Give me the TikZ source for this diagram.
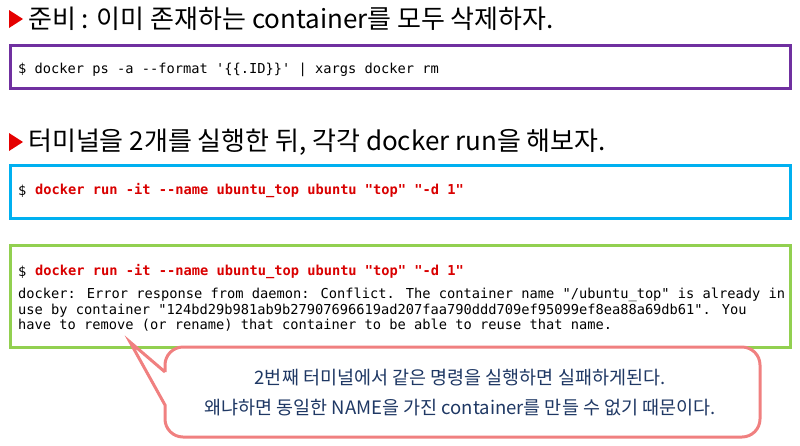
\documentclass[tikz,border=0pt]{standalone}
\usepackage{fontspec}
\newfontfamily\kr{Noto Sans CJK KR}
\newfontfamily\codef{DejaVu Sans Mono}
\definecolor{cpurple}{RGB}{112,48,160}
\definecolor{cblue}{RGB}{0,176,240}
\definecolor{cgreen}{RGB}{146,208,80}
\definecolor{cpink}{RGB}{240,128,128}
\definecolor{cnavy}{RGB}{31,56,100}
\begin{document}
\begin{tikzpicture}[x=1pt,y=-1pt,
  ttl/.style={anchor=west,inner sep=0,font=\kr\fontsize{26}{28}\selectfont},
  tri/.style={fill=red!90!black,draw=none},
  cbox/.style={draw=#1,line width=3pt},
  code/.style={anchor=west,inner sep=0,font=\codef\fontsize{13.7}{15.5}\selectfont,align=left},
  cmd/.style={code,text=red!85!black,font=\codef\bfseries\fontsize{13.7}{15.5}\selectfont},
  note/.style={inner sep=0,font=\kr\fontsize{18.5}{20}\selectfont,text=cnavy}]
\useasboundingbox (0,0) rectangle (800,445);
% title 1
\fill[tri] (9,10) -- (23,19) -- (9,28) -- cycle;
\node[ttl] (t1) at (28,19) {준비 : 이미 존재하는 container를 모두 삭제하자.};
\draw[cbox=cpurple] (10,45) rectangle (790,88);
\node[code] (c1) at (18,70) {\$ docker ps -a --format '\{\{.ID\}\}' | xargs docker rm};
% title 2
\fill[tri] (9,133) -- (23,142) -- (9,151) -- cycle;
\node[ttl] (t2) at (28,142) {터미널을 2개를 실행한 뒤, 각각 docker run을 해보자.};
\draw[cbox=cblue] (10,165) rectangle (790,218);
\node[code] (c2a) at (18,191) {\$ };
\node[cmd] (c2) at (c2a.east) {docker run -it --name ubuntu\_top ubuntu "top" "-d 1"};
% green
\draw[cbox=cgreen] (10,245) rectangle (790,347);
\node[code] (c3a) at (18,272) {\$ };
\node[cmd] (c3) at (c3a.east) {docker run -it --name ubuntu\_top ubuntu "top" "-d 1"};
\node[code,anchor=north west] (err) at (18,288) {docker: Error response from daemon: Conflict. The container name "/ubuntu\_top" is already in\\use by container "124bd29b981ab9b27907696619ad207faa790ddd709ef95099ef8ea88a69db61". You\\have to remove (or rename) that container to be able to reuse that name.};
% callout
\coordinate (tip) at (130,342);
\draw[line width=3pt,draw=cpink,fill=white,rounded corners=18pt]
  (165,372) [sharp corners]-- (tip) -- (165,405) [rounded corners=18pt] -- (165,437) -- (760,437) -- (760,347) -- (165,347) -- (165,372);
\node[note] (n1) at (460,378) {2번째 터미널에서 같은 명령을 실행하면 실패하게된다.};
\node[note] (n2) at (460,408) {왜냐하면 동일한 NAME을 가진 container를 만들 수 없기 때문이다.};
\end{tikzpicture}
\end{document}
